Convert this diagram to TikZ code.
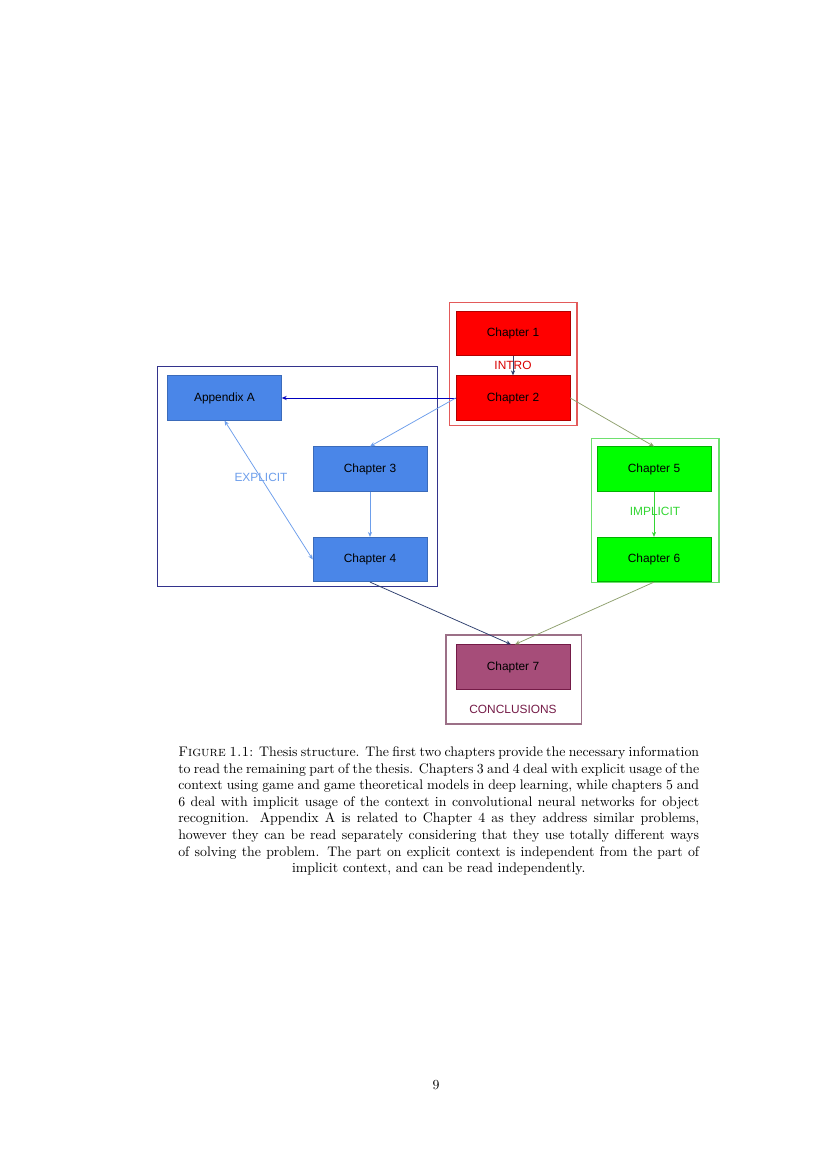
\documentclass[tikz,border=0pt]{standalone}
\usepackage{fontspec}
\newfontfamily\diagfont{Liberation Sans}
\usetikzlibrary{arrows.meta,positioning}
\definecolor{introred}{HTML}{FF0000}
\definecolor{introedge}{HTML}{E35A5A}
\definecolor{expblue}{HTML}{4A86E8}
\definecolor{expedge}{HTML}{33338C}
\definecolor{explight}{HTML}{6D9EEB}
\definecolor{impgreen}{HTML}{00FF00}
\definecolor{impedge}{HTML}{6EE06E}
\definecolor{implabel}{HTML}{33D633}
\definecolor{concfill}{HTML}{A64D79}
\definecolor{concedge}{HTML}{9C7087}
\definecolor{conclabel}{HTML}{741B47}
\definecolor{olivelink}{HTML}{8FA06E}
\definecolor{navylink}{HTML}{2E3F6E}
\begin{document}
\begin{tikzpicture}[x=0.254mm, y=-0.254mm,
    chapter style/.style={draw, minimum width=28.9mm, minimum height=11.3mm, inner sep=0pt, line width=0.5pt, font=\diagfont\fontsize{8.6}{10}\selectfont},
    frame style/.style={draw, fill=none, line width=0.75pt},
    label style/.style={font=\diagfont\fontsize{8.6}{10}\selectfont, inner sep=1pt},
    link/.style={-{Stealth[length=3.6pt,width=3pt]}, line width=0.55pt}
]
\useasboundingbox (0,0) rectangle (827,1170);
% frames
\node[frame style, draw=introedge, minimum width=32.5mm, minimum height=31mm] (intro frame) at (513,364) {};
\node[frame style, draw=expedge, minimum width=70.9mm, minimum height=56.1mm] (explicit frame) at (297.5,476.5) {};
\node[frame style, draw=impedge, minimum width=32.5mm, minimum height=36.8mm] (implicit frame) at (655,510.5) {};
\node[frame style, draw=concedge, minimum width=34.3mm, minimum height=22.6mm] (conclusions frame) at (513.5,679.5) {};
% chapters
\node[chapter style, fill=introred, draw=red!70!black] (ch1) at (513,333.5) {Chapter 1};
\node[chapter style, fill=introred, draw=red!70!black] (ch2) at (513,398) {Chapter 2};
\node[chapter style, fill=expblue, draw=expblue!80!black] (appA) at (224.5,398) {Appendix A};
\node[chapter style, fill=expblue, draw=expblue!80!black] (ch3) at (370,469) {Chapter 3};
\node[chapter style, fill=expblue, draw=expblue!80!black] (ch4) at (370,559.5) {Chapter 4};
\node[chapter style, fill=impgreen, draw=green!70!black] (ch5) at (654,469) {Chapter 5};
\node[chapter style, fill=impgreen, draw=green!70!black] (ch6) at (654,559.5) {Chapter 6};
\node[chapter style, fill=concfill, draw=conclabel] (ch7) at (513,667) {Chapter 7};
% labels
\node[label style, text=red!85!black] (intro) at (513,365) {INTRO};
\node[label style, text=explight] (explicit) at (261,477) {EXPLICIT};
\node[label style, text=implabel] (implicit) at (655,511) {IMPLICIT};
\node[label style, text=conclabel] (conclusions) at (513,709.5) {CONCLUSIONS};
% links
\draw[link, navylink] (ch1) -- (ch2);
\draw[link, blue!75!black] (ch2.west) -- (appA.east);
\draw[link, explight] (ch2.west) -- (ch3.north);
\draw[link, olivelink] (ch2.east) -- (ch5.north);
\draw[link, explight, {Stealth[length=3.6pt,width=3pt]}-{Stealth[length=3.6pt,width=3pt]}] (appA.south) -- (ch4.west);
\draw[link, explight] (ch3) -- (ch4);
\draw[link, implabel] (ch5) -- (ch6);
\draw[link, navylink] (ch4.south) -- ([xshift=-0.5mm]ch7.north);
\draw[link, olivelink] (ch6.south) -- ([xshift=0.5mm]ch7.north);
% caption and page number
\node[anchor=north west, inner sep=0pt] (caption) at (178,746.5) {\begin{minipage}{132.3mm}\fontsize{10}{12}\selectfont
\leftskip=0pt plus 1fil\rightskip=0pt plus -1fil\parfillskip=0pt plus 2fil\parindent=0pt
\textsc{Figure 1.1:} Thesis structure. The first two chapters provide the necessary information
to read the remaining part of the thesis. Chapters 3 and 4 deal with explicit usage of the
context using game and game theoretical models in deep learning, while chapters 5 and
6 deal with implicit usage of the context in convolutional neural networks for object
recognition. Appendix A is related to Chapter 4 as they address similar problems,
however they can be read separately considering that they use totally different ways
of solving the problem. The part on explicit context is independent from the part of
implicit context, and can be read independently.\par\end{minipage}};
\node[font=\fontsize{10}{12}\selectfont, inner sep=0pt] (page number) at (436,1085) {9};
\end{tikzpicture}
\end{document}
